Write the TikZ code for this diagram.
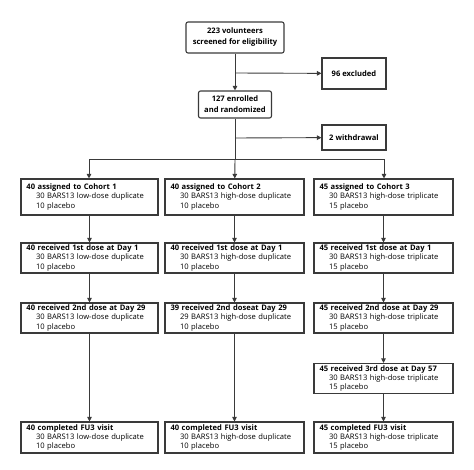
\documentclass[tikz,border=0pt]{standalone}
\usepackage{fontspec}
\setmainfont{Open Sans}
\usetikzlibrary{arrows.meta}
\definecolor{ln}{HTML}{3A3A3A}
\begin{document}
\begin{tikzpicture}[x=1pt,y=-1pt,
  box/.style={draw=ln,line width=1.1pt,inner sep=0pt,text=black,font=\fontsize{7.6}{9.2}\selectfont},
  topbox/.style={box,rounded corners=2pt,align=center,font=\fontsize{7.6}{11}\selectfont\bfseries},
  sidebox/.style={box,align=center,font=\fontsize{7.6}{9}\selectfont\bfseries},
  cbox/.style={box,align=left,text width=#1},
  conn/.style={draw=ln,line width=0.9pt},
  arr/.style={conn,-{Triangle[length=4.5pt,width=4.5pt]}}]
\useasboundingbox (0,0) rectangle (474,470);
\newcommand{\ind}{\hspace*{9.5pt}}
% top
\node[topbox,minimum width=98pt,minimum height=31pt] (screen) at (235,37.5) {223 volunteers\\screened for eligibility};
\node[sidebox,minimum width=64pt,minimum height=31pt] (excl) at (354,73.5) {96 excluded};
\node[topbox,minimum width=73pt,minimum height=27pt] (enroll) at (235,104.5) {127 enrolled\\and randomized};
\node[sidebox,minimum width=64pt,minimum height=25pt] (withd) at (354,137.5) {2 withdrawal};
% row 1
\begin{scope}[every node/.append style={minimum height=36pt,font=\fontsize{7.6}{11.3}\selectfont}]
\node[cbox=126pt,minimum width=137pt] (a1) at (89.5,197) {\textbf{40 assigned to Cohort 1}\\\ind 30 BARS13 low-dose duplicate\\\ind 10 placebo};
\node[cbox=128pt,minimum width=139pt] (b1) at (234.5,197) {\textbf{40 assigned to Cohort 2}\\\ind 30 BARS13 high-dose duplicate\\\ind 10 placebo};
\node[cbox=128pt,minimum width=139pt] (c1) at (383.5,197) {\textbf{45 assigned to Cohort 3}\\\ind 30 BARS13 high-dose triplicate\\\ind 15 placebo};
\end{scope}
% row 2
\node[cbox=126pt,minimum width=137pt,minimum height=30pt] (a2) at (89.5,258) {\textbf{40 received 1st dose at Day 1}\\\ind 30 BARS13 low-dose duplicate\\\ind 10 placebo};
\node[cbox=128pt,minimum width=139pt,minimum height=30pt] (b2) at (234.5,258) {\textbf{40 received 1st dose at Day 1}\\\ind 30 BARS13 high-dose duplicate\\\ind 10 placebo};
\node[cbox=128pt,minimum width=139pt,minimum height=30pt] (c2) at (383.5,258) {\textbf{45 received 1st dose at Day 1}\\\ind 30 BARS13 high-dose triplicate\\\ind 15 placebo};
% row 3
\node[cbox=126pt,minimum width=137pt,minimum height=30pt] (a3) at (89.5,318) {\textbf{40 received 2nd dose at Day 29}\\\ind 30 BARS13 low-dose duplicate\\\ind 10 placebo};
\node[cbox=128pt,minimum width=139pt,minimum height=30pt] (b3) at (234.5,318) {\textbf{39 received 2nd doseat Day 29}\\\ind 29 BARS13 high-dose duplicate\\\ind 10 placebo};
\node[cbox=128pt,minimum width=139pt,minimum height=30pt] (c3) at (383.5,318) {\textbf{45 received 2nd dose at Day 29}\\\ind 30 BARS13 high-dose triplicate\\\ind 15 placebo};
% row 4
\node[cbox=128pt,minimum width=139pt,minimum height=30pt] (c4) at (383.5,378.5) {\textbf{45 received 3rd dose at Day 57}\\\ind 30 BARS13 high-dose triplicate\\\ind 15 placebo};
% row 5
\node[cbox=126pt,minimum width=137pt,minimum height=31pt] (a5) at (89.5,437.5) {\textbf{40 completed FU3 visit}\\\ind 30 BARS13 low-dose duplicate\\\ind 10 placebo};
\node[cbox=128pt,minimum width=139pt,minimum height=31pt] (b5) at (234.5,437.5) {\textbf{40 completed FU3 visit}\\\ind 30 BARS13 high-dose duplicate\\\ind 10 placebo};
\node[cbox=128pt,minimum width=139pt,minimum height=31pt] (c5) at (383.5,437.5) {\textbf{45 completed FU3 visit}\\\ind 30 BARS13 high-dose triplicate\\\ind 15 placebo};
% connectors
\coordinate (j1) at (235,73);
\coordinate (j2) at (235,138);
\coordinate (bm) at (235,159.5);
\coordinate (bl) at (89,159.5);
\coordinate (br) at (384,159.5);
\draw[arr] (screen) -- (enroll);
\draw[arr] (j1) -- (excl);
\draw[conn] (enroll) -- (bm);
\draw[arr] (j2) -- (withd);
\draw[conn] (bl) -- (br);
\draw[arr] (bl) -- (bl |- a1.north);
\draw[arr] (bm) -- (b1);
\draw[arr] (br) -- (br |- c1.north);
\draw[arr] (a1) -- (a2);
\draw[arr] (b1) -- (b2);
\draw[arr] (c1) -- (c2);
\draw[arr] (a2) -- (a3);
\draw[arr] (b2) -- (b3);
\draw[arr] (c2) -- (c3);
\draw[arr] (a3) -- (a5);
\draw[arr] (b3) -- (b5);
\draw[arr] (c3) -- (c4);
\draw[arr] (c4) -- (c5);
\end{tikzpicture}
\end{document}
